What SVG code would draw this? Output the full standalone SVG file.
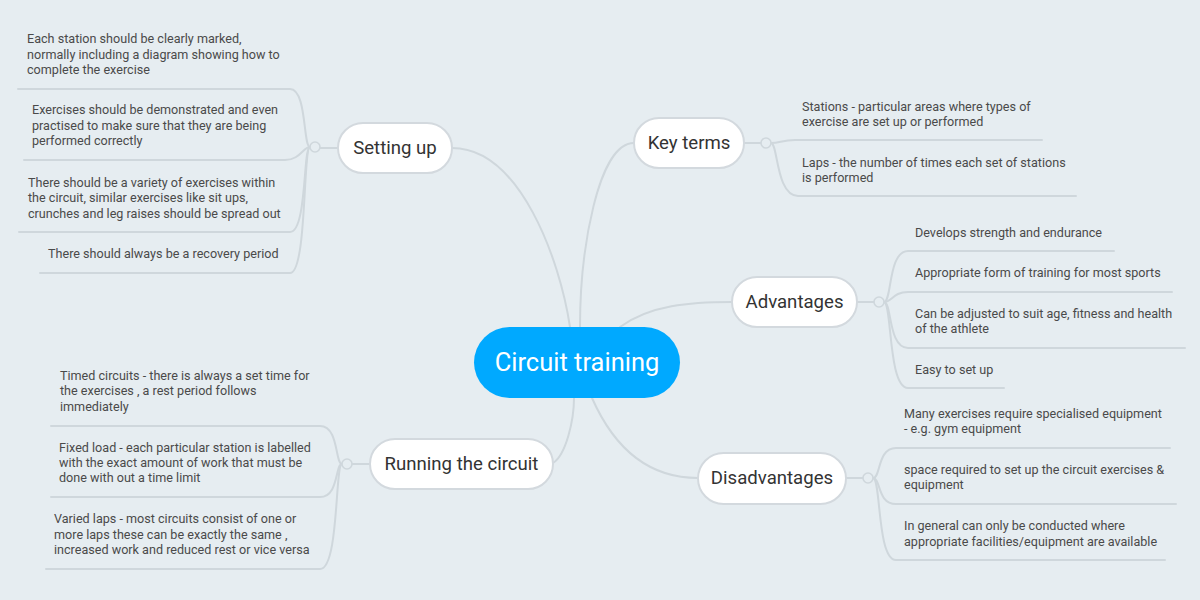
<svg xmlns="http://www.w3.org/2000/svg" width="1200" height="600" viewBox="0 0 1200 600">
<style>
.bg{fill:#e6edf1}
.line{fill:none;stroke:#cfd7dc;stroke-width:2;stroke-linecap:round}
.node{fill:#ffffff;stroke:#d3d9de;stroke-width:2}
.dot{fill:#e6edf1;stroke:#cfd7dc;stroke-width:1.6}
.title{font-family:Roboto,"Liberation Sans",sans-serif;font-size:18.6px;fill:#333333;text-anchor:middle}
.item{font-family:Roboto,"Liberation Sans",sans-serif;font-size:12.6px;fill:#4a4a4a}
.root{fill:#00a9ff}
.roottext{font-family:Roboto,"Liberation Sans",sans-serif;font-size:25.5px;fill:#ffffff;text-anchor:middle}
</style>
<rect class="bg" x="0" y="0" width="1200" height="600"/>
<g id="connectors">
  <path class="line" d="M452,148 C520,148 560,260 570,327"/>
  <path class="line" d="M634,143 C598,143 580,250 580,327"/>
  <path class="line" d="M620,327 C650,305 690,302 732,302"/>
  <path class="line" d="M553,463 C566,455 574,420 574,398"/>
  <path class="line" d="M592,398 C615,450 650,478 698,478"/>
  <path class="line" d="M338,148 H320"/>
  <path class="line" d="M310,147 C303,147 307,89 290,89 H18"/>
  <path class="line" d="M310,147 C303,147 300,160 285,160 H24"/>
  <path class="line" d="M310,147 C303,147 307,232 290,232 H19"/>
  <path class="line" d="M310,147 C303,147 307,273 290,273 H40"/>
  <path class="line" d="M744,143 H761"/>
  <path class="line" d="M771,143 C780,143 782,140 795,140 H1042"/>
  <path class="line" d="M771,143 C778,143 776,196 798,196 H1076"/>
  <path class="line" d="M857,302 H874"/>
  <path class="line" d="M884,302 C892,302 888,251 908,251 H1114"/>
  <path class="line" d="M884,302 C892,302 893,292 908,292 H1172"/>
  <path class="line" d="M884,302 C892,302 888,348 908,348 H1185"/>
  <path class="line" d="M884,302 C892,302 888,388 908,388 H1004"/>
  <path class="line" d="M370,464 H352"/>
  <path class="line" d="M342,464 C335,464 339,426 320,426 H51"/>
  <path class="line" d="M342,464 C335,464 339,497 320,497 H51"/>
  <path class="line" d="M342,464 C335,464 339,569 320,569 H46"/>
  <path class="line" d="M846,478 H863"/>
  <path class="line" d="M873,478 C881,478 877,448 896,448 H1170"/>
  <path class="line" d="M873,478 C881,478 877,504 896,504 H1176"/>
  <path class="line" d="M873,478 C881,478 877,560 896,560 H1165"/>
  <circle class="dot" cx="315" cy="147" r="5"/>
  <circle class="dot" cx="766" cy="143" r="5"/>
  <circle class="dot" cx="879" cy="302" r="5"/>
  <circle class="dot" cx="347" cy="464" r="5"/>
  <circle class="dot" cx="868" cy="478" r="5"/>
</g>
<g id="root">
  <rect class="root" x="474" y="327" width="206" height="71" rx="35.5"/>
  <text class="roottext" x="577" y="371">Circuit training</text>
</g>
<g id="setting-up">
  <rect class="node" x="338" y="123" width="114" height="50" rx="25"/>
  <text class="title" x="395" y="154">Setting up</text>
</g>
<g id="setting-up-items">
  <text class="item" x="27" y="43">Each station should be clearly marked,</text>
  <text class="item" x="27" y="59">normally including a diagram showing how to</text>
  <text class="item" x="27" y="74">complete the exercise</text>
  <text class="item" x="32" y="114">Exercises should be demonstrated and even</text>
  <text class="item" x="32" y="130">practised to make sure that they are being</text>
  <text class="item" x="32" y="145">performed correctly</text>
  <text class="item" x="28" y="187">There should be a variety of exercises within</text>
  <text class="item" x="28" y="202">the circuit, similar exercises like sit ups,</text>
  <text class="item" x="28" y="218">crunches and leg raises should be spread out</text>
  <text class="item" x="48" y="258">There should always be a recovery period</text>
</g>
<g id="key-terms">
  <rect class="node" x="634" y="118" width="110" height="50" rx="25"/>
  <text class="title" x="689" y="149">Key terms</text>
</g>
<g id="key-terms-items">
  <text class="item" x="802" y="111">Stations - particular areas where types of</text>
  <text class="item" x="802" y="126">exercise are set up or performed</text>
  <text class="item" x="802" y="167">Laps - the number of times each set of stations</text>
  <text class="item" x="802" y="182">is performed</text>
</g>
<g id="advantages">
  <rect class="node" x="732" y="277" width="125" height="50" rx="25"/>
  <text class="title" x="794.5" y="308">Advantages</text>
</g>
<g id="advantages-items">
  <text class="item" x="915" y="237">Develops strength and endurance</text>
  <text class="item" x="915" y="277">Appropriate form of training for most sports</text>
  <text class="item" x="915" y="318">Can be adjusted to suit age, fitness and health</text>
  <text class="item" x="915" y="333">of the athlete</text>
  <text class="item" x="915" y="374">Easy to set up</text>
</g>
<g id="running">
  <rect class="node" x="370" y="439" width="183" height="50" rx="25"/>
  <text class="title" x="461.5" y="470">Running the circuit</text>
</g>
<g id="running-items">
  <text class="item" x="60" y="380">Timed circuits - there is always a set time for</text>
  <text class="item" x="60" y="395">the exercises , a rest period follows</text>
  <text class="item" x="60" y="411">immediately</text>
  <text class="item" x="59" y="452">Fixed load - each particular station is labelled</text>
  <text class="item" x="59" y="467">with the exact amount of work that must be</text>
  <text class="item" x="59" y="482">done with out a time limit</text>
  <text class="item" x="54" y="523">Varied laps - most circuits consist of one or</text>
  <text class="item" x="54" y="539">more laps these can be exactly the same ,</text>
  <text class="item" x="54" y="554">increased work and reduced rest or vice versa</text>
</g>
<g id="disadvantages">
  <rect class="node" x="698" y="453" width="148" height="51" rx="25.5"/>
  <text class="title" x="772" y="484">Disadvantages</text>
</g>
<g id="disadvantages-items">
  <text class="item" x="904" y="418">Many exercises require specialised equipment</text>
  <text class="item" x="904" y="433">- e.g. gym equipment</text>
  <text class="item" x="904" y="474">space required to set up the circuit exercises &amp;</text>
  <text class="item" x="904" y="489">equipment</text>
  <text class="item" x="904" y="530">In general can only be conducted where</text>
  <text class="item" x="904" y="546">appropriate facilities/equipment are available</text>
</g>
</svg>
